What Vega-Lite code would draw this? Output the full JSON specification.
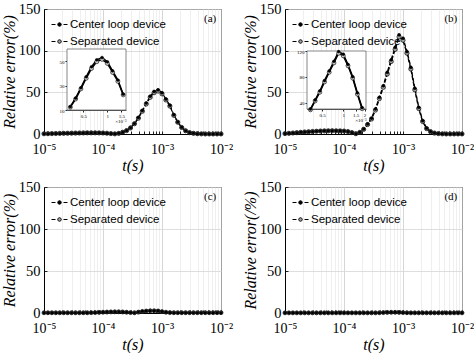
{
  "$schema": "https://vega.github.io/schema/vega-lite/v6.json",
  "padding": {"left": 0, "top": 0, "right": 0, "bottom": 0},
  "background": "white",
  "datasets": {
    "pts": [
      {"p":"a","t":1e-5,"c":0.3,"s":0.3},{"p":"a","t":1.166e-5,"c":0.4,"s":0.4},{"p":"a","t":1.359e-5,"c":0.5,"s":0.5},{"p":"a","t":1.585e-5,"c":0.6,"s":0.6},{"p":"a","t":1.848e-5,"c":0.7,"s":0.7},{"p":"a","t":2.154e-5,"c":0.8,"s":0.8},{"p":"a","t":2.512e-5,"c":0.9,"s":0.9},{"p":"a","t":2.929e-5,"c":1.0,"s":1.0},{"p":"a","t":3.415e-5,"c":1.1,"s":1.1},{"p":"a","t":3.981e-5,"c":1.2,"s":1.2},{"p":"a","t":4.642e-5,"c":1.3,"s":1.3},{"p":"a","t":5.412e-5,"c":1.4,"s":1.4},{"p":"a","t":6.31e-5,"c":1.5,"s":1.4},{"p":"a","t":7.356e-5,"c":1.5,"s":1.4},{"p":"a","t":8.577e-5,"c":1.4,"s":1.3},
      {"p":"a","t":1e-4,"c":1.3,"s":1.2},{"p":"a","t":1.166e-4,"c":1.0,"s":0.9},{"p":"a","t":1.359e-4,"c":0.5,"s":0.5},{"p":"a","t":1.585e-4,"c":0.2,"s":0.2},{"p":"a","t":1.848e-4,"c":0.8,"s":0.7},{"p":"a","t":2.154e-4,"c":2.2,"s":2.1},{"p":"a","t":2.512e-4,"c":4.3,"s":4.1},{"p":"a","t":2.929e-4,"c":7.6,"s":7.3},{"p":"a","t":3.415e-4,"c":12.7,"s":12.3},{"p":"a","t":3.981e-4,"c":19.7,"s":19.0},{"p":"a","t":4.642e-4,"c":28.2,"s":27.3},{"p":"a","t":5.412e-4,"c":37.2,"s":36.0},{"p":"a","t":6.31e-4,"c":45.4,"s":44.0},{"p":"a","t":7.356e-4,"c":51.1,"s":49.6},{"p":"a","t":8.577e-4,"c":53,"s":51.5},
      {"p":"a","t":1e-3,"c":49.5,"s":48.2},{"p":"a","t":1.166e-3,"c":42,"s":40.8},{"p":"a","t":1.359e-3,"c":34.5,"s":33.5},{"p":"a","t":1.585e-3,"c":23,"s":22.4},{"p":"a","t":1.848e-3,"c":14.5,"s":14.1},{"p":"a","t":2.154e-3,"c":8,"s":7.8},{"p":"a","t":2.512e-3,"c":4,"s":3.9},{"p":"a","t":2.929e-3,"c":1.8,"s":1.7},{"p":"a","t":3.415e-3,"c":0.8,"s":0.8},{"p":"a","t":3.981e-3,"c":0.4,"s":0.4},{"p":"a","t":4.642e-3,"c":0.2,"s":0.2},{"p":"a","t":5.412e-3,"c":0.1,"s":0.1},{"p":"a","t":6.31e-3,"c":0.1,"s":0.1},{"p":"a","t":7.356e-3,"c":0.1,"s":0.1},{"p":"a","t":8.577e-3,"c":0.1,"s":0.1},{"p":"a","t":1e-2,"c":0.1,"s":0.1},

      {"p":"b","t":1e-5,"c":0.5,"s":0.5},{"p":"b","t":1.166e-5,"c":0.8,"s":0.8},{"p":"b","t":1.359e-5,"c":1.2,"s":1.2},{"p":"b","t":1.585e-5,"c":1.6,"s":1.6},{"p":"b","t":1.848e-5,"c":2.0,"s":2.0},{"p":"b","t":2.154e-5,"c":2.4,"s":2.4},{"p":"b","t":2.512e-5,"c":2.8,"s":2.7},{"p":"b","t":2.929e-5,"c":3.1,"s":3.0},{"p":"b","t":3.415e-5,"c":3.4,"s":3.3},{"p":"b","t":3.981e-5,"c":3.6,"s":3.5},{"p":"b","t":4.642e-5,"c":3.8,"s":3.7},{"p":"b","t":5.412e-5,"c":3.9,"s":3.8},{"p":"b","t":6.31e-5,"c":4.0,"s":3.9},{"p":"b","t":7.356e-5,"c":3.9,"s":3.8},{"p":"b","t":8.577e-5,"c":3.8,"s":3.7},
      {"p":"b","t":1e-4,"c":3.6,"s":3.5},{"p":"b","t":1.166e-4,"c":3.0,"s":2.9},{"p":"b","t":1.359e-4,"c":1.8,"s":1.7},{"p":"b","t":1.585e-4,"c":0.4,"s":0.4},{"p":"b","t":1.848e-4,"c":2,"s":1.9},{"p":"b","t":2.154e-4,"c":6,"s":5.6},{"p":"b","t":2.512e-4,"c":12,"s":11.4},{"p":"b","t":2.929e-4,"c":19,"s":18},{"p":"b","t":3.415e-4,"c":30,"s":28.7},{"p":"b","t":3.981e-4,"c":44,"s":42.5},{"p":"b","t":4.642e-4,"c":58,"s":56},{"p":"b","t":5.412e-4,"c":74,"s":72},{"p":"b","t":6.31e-4,"c":89,"s":87},{"p":"b","t":7.356e-4,"c":104,"s":101.5},{"p":"b","t":8.577e-4,"c":119,"s":116.5},
      {"p":"b","t":1e-3,"c":115,"s":112.5},{"p":"b","t":1.166e-3,"c":99,"s":97},{"p":"b","t":1.359e-3,"c":80,"s":78},{"p":"b","t":1.585e-3,"c":55,"s":53},{"p":"b","t":1.848e-3,"c":32,"s":30.5},{"p":"b","t":2.154e-3,"c":16,"s":15},{"p":"b","t":2.512e-3,"c":7,"s":6.5},{"p":"b","t":2.929e-3,"c":3,"s":2.8},{"p":"b","t":3.415e-3,"c":1.2,"s":1.1},{"p":"b","t":3.981e-3,"c":0.5,"s":0.5},{"p":"b","t":4.642e-3,"c":0.2,"s":0.2},{"p":"b","t":5.412e-3,"c":0.1,"s":0.1},{"p":"b","t":6.31e-3,"c":0.1,"s":0.1},{"p":"b","t":7.356e-3,"c":0.1,"s":0.1},{"p":"b","t":8.577e-3,"c":0.1,"s":0.1},{"p":"b","t":1e-2,"c":0.1,"s":0.1},

      {"p":"c","t":1e-5,"c":0.3,"s":0.3},{"p":"c","t":1.166e-5,"c":0.3,"s":0.3},{"p":"c","t":1.359e-5,"c":0.3,"s":0.3},{"p":"c","t":1.585e-5,"c":0.3,"s":0.3},{"p":"c","t":1.848e-5,"c":0.3,"s":0.3},{"p":"c","t":2.154e-5,"c":0.3,"s":0.3},{"p":"c","t":2.512e-5,"c":0.3,"s":0.3},{"p":"c","t":2.929e-5,"c":0.3,"s":0.3},{"p":"c","t":3.415e-5,"c":0.3,"s":0.3},{"p":"c","t":3.981e-5,"c":0.3,"s":0.3},{"p":"c","t":4.642e-5,"c":0.3,"s":0.3},{"p":"c","t":5.412e-5,"c":0.3,"s":0.3},{"p":"c","t":6.31e-5,"c":0.5,"s":0.4},{"p":"c","t":7.356e-5,"c":0.6,"s":0.5},{"p":"c","t":8.577e-5,"c":0.8,"s":0.7},
      {"p":"c","t":1e-4,"c":1.0,"s":0.9},{"p":"c","t":1.166e-4,"c":1.2,"s":1.1},{"p":"c","t":1.359e-4,"c":1.4,"s":1.3},{"p":"c","t":1.585e-4,"c":1.5,"s":1.4},{"p":"c","t":1.848e-4,"c":1.5,"s":1.4},{"p":"c","t":2.154e-4,"c":1.3,"s":1.2},{"p":"c","t":2.512e-4,"c":1.0,"s":0.9},{"p":"c","t":2.929e-4,"c":0.6,"s":0.5},{"p":"c","t":3.415e-4,"c":0.3,"s":0.3},{"p":"c","t":3.981e-4,"c":1.2,"s":1.0},{"p":"c","t":4.642e-4,"c":2.0,"s":1.8},{"p":"c","t":5.412e-4,"c":2.5,"s":2.3},{"p":"c","t":6.31e-4,"c":2.8,"s":2.6},{"p":"c","t":7.356e-4,"c":2.8,"s":2.6},{"p":"c","t":8.577e-4,"c":2.6,"s":2.4},
      {"p":"c","t":1e-3,"c":1.8,"s":1.6},{"p":"c","t":1.166e-3,"c":1.0,"s":0.9},{"p":"c","t":1.359e-3,"c":0.6,"s":0.5},{"p":"c","t":1.585e-3,"c":0.4,"s":0.4},{"p":"c","t":1.848e-3,"c":0.4,"s":0.4},{"p":"c","t":2.154e-3,"c":0.4,"s":0.4},{"p":"c","t":2.512e-3,"c":0.4,"s":0.4},{"p":"c","t":2.929e-3,"c":0.4,"s":0.4},{"p":"c","t":3.415e-3,"c":0.4,"s":0.4},{"p":"c","t":3.981e-3,"c":0.4,"s":0.4},{"p":"c","t":4.642e-3,"c":0.4,"s":0.4},{"p":"c","t":5.412e-3,"c":0.4,"s":0.4},{"p":"c","t":6.31e-3,"c":0.4,"s":0.4},{"p":"c","t":7.356e-3,"c":0.4,"s":0.4},{"p":"c","t":8.577e-3,"c":0.4,"s":0.4},{"p":"c","t":1e-2,"c":0.4,"s":0.4},

      {"p":"d","t":1e-5,"c":0.2,"s":0.2},{"p":"d","t":1.166e-5,"c":0.2,"s":0.2},{"p":"d","t":1.359e-5,"c":0.2,"s":0.2},{"p":"d","t":1.585e-5,"c":0.2,"s":0.2},{"p":"d","t":1.848e-5,"c":0.2,"s":0.2},{"p":"d","t":2.154e-5,"c":0.2,"s":0.2},{"p":"d","t":2.512e-5,"c":0.2,"s":0.2},{"p":"d","t":2.929e-5,"c":0.2,"s":0.2},{"p":"d","t":3.415e-5,"c":0.2,"s":0.2},{"p":"d","t":3.981e-5,"c":0.2,"s":0.2},{"p":"d","t":4.642e-5,"c":0.2,"s":0.2},{"p":"d","t":5.412e-5,"c":0.2,"s":0.2},{"p":"d","t":6.31e-5,"c":0.2,"s":0.2},{"p":"d","t":7.356e-5,"c":0.2,"s":0.2},{"p":"d","t":8.577e-5,"c":0.2,"s":0.2},
      {"p":"d","t":1e-4,"c":0.2,"s":0.2},{"p":"d","t":1.166e-4,"c":0.2,"s":0.2},{"p":"d","t":1.359e-4,"c":0.2,"s":0.2},{"p":"d","t":1.585e-4,"c":0.2,"s":0.2},{"p":"d","t":1.848e-4,"c":0.2,"s":0.2},{"p":"d","t":2.154e-4,"c":0.2,"s":0.2},{"p":"d","t":2.512e-4,"c":0.2,"s":0.2},{"p":"d","t":2.929e-4,"c":0.2,"s":0.2},{"p":"d","t":3.415e-4,"c":0.2,"s":0.2},{"p":"d","t":3.981e-4,"c":0.4,"s":0.35},{"p":"d","t":4.642e-4,"c":0.6,"s":0.5},{"p":"d","t":5.412e-4,"c":0.8,"s":0.7},{"p":"d","t":6.31e-4,"c":0.9,"s":0.8},{"p":"d","t":7.356e-4,"c":0.9,"s":0.8},{"p":"d","t":8.577e-4,"c":0.8,"s":0.7},
      {"p":"d","t":1e-3,"c":0.6,"s":0.5},{"p":"d","t":1.166e-3,"c":0.4,"s":0.35},{"p":"d","t":1.359e-3,"c":0.2,"s":0.2},{"p":"d","t":1.585e-3,"c":0.2,"s":0.2},{"p":"d","t":1.848e-3,"c":0.2,"s":0.2},{"p":"d","t":2.154e-3,"c":0.2,"s":0.2},{"p":"d","t":2.512e-3,"c":0.2,"s":0.2},{"p":"d","t":2.929e-3,"c":0.2,"s":0.2},{"p":"d","t":3.415e-3,"c":0.2,"s":0.2},{"p":"d","t":3.981e-3,"c":0.2,"s":0.2},{"p":"d","t":4.642e-3,"c":0.2,"s":0.2},{"p":"d","t":5.412e-3,"c":0.2,"s":0.2},{"p":"d","t":6.31e-3,"c":0.2,"s":0.2},{"p":"d","t":7.356e-3,"c":0.2,"s":0.2},{"p":"d","t":8.577e-3,"c":0.2,"s":0.2},{"p":"d","t":1e-2,"c":0.2,"s":0.2}
    ]
  },
  "columns": 2,
  "spacing": {"row": 53, "column": 64},
  "bounds": "flush",
  "resolve": {"scale": {"fill": "independent"}, "legend": {"fill": "independent"}},
  "concat": [
    {
      "width": 177, "height": 125,
      "layer": [
        {"layer": [
          {"data": {"name": "pts"}, "transform": [{"filter": "datum.p=='a'"}, {"fold": ["c","s"], "as": ["key","err"]}],
           "mark": {"type": "line", "color": "black", "strokeWidth": 1.2, "strokeDash": [4,2]},
           "encoding": {
             "x": {"field": "t", "type": "quantitative", "scale": {"type": "log", "domain": [1e-5, 1e-2], "nice": false},
                   "axis": {"title": "t(s)", "values": [1e-5,2e-5,3e-5,4e-5,5e-5,6e-5,7e-5,8e-5,9e-5,1e-4,2e-4,3e-4,4e-4,5e-4,6e-4,7e-4,8e-4,9e-4,0.001,0.002,0.003,0.004,0.005,0.006,0.007,0.008,0.009,0.01],
                     "labelExpr": "abs(log(datum.value)/LN10-round(log(datum.value)/LN10))<1e-6 ? '10⁻'+['⁰','¹','²','³','⁴','⁵'][-round(log(datum.value)/LN10)] : ''",
                     "labelOverlap": false, "labelFlush": false, "labelFontSize": 14, "labelPadding": 11, "tickSize": -3,
                     "grid": true, "gridColor": {"condition": {"test": "abs(log(datum.value)/LN10-round(log(datum.value)/LN10))<1e-6", "value": "#cccccc"}, "value": "#ebebeb"}, "gridWidth": 0.8,
                     "titleFontStyle": "italic", "titleFontSize": 16, "titlePadding": 1}},
             "y": {"field": "err", "type": "quantitative", "scale": {"domain": [0, 150], "nice": false},
                   "axis": {"title": "Relative error(%)", "values": [0,50,100,150], "grid": true, "gridColor": "#d6d6d6", "gridWidth": 0.8, "tickSize": -3, "labelPadding": 7, "labelFontSize": 14.5, "labelOverlap": false, "titleFontStyle": "italic", "titleFontSize": 16, "titlePadding": 1}},
             "detail": {"field": "key"}
           }},
          {"data": {"name": "pts"}, "transform": [{"filter": "datum.p=='a'"}, {"fold": ["c","s"], "as": ["key","err"]}, {"filter": "datum.key=='s'"}],
           "mark": {"type": "point", "shape": "circle", "filled": true, "stroke": "black", "strokeWidth": 0.7, "opacity": 1, "size": 18},
           "encoding": {
             "x": {"field": "t", "type": "quantitative", "scale": {"type": "log", "domain": [1e-5, 1e-2], "nice": false}},
             "y": {"field": "err", "type": "quantitative", "scale": {"domain": [0, 150], "nice": false}},
             "fill": {"field": "key", "type": "nominal", "scale": {"domain": ["c","s"], "range": ["black", "#a6a6a6"]},
                      "legend": {"title": null, "labelExpr": "datum.label=='c' ? 'Center loop device' : 'Separated device'"}}
           }},
          {"data": {"name": "pts"}, "transform": [{"filter": "datum.p=='a'"}, {"fold": ["c","s"], "as": ["key","err"]}, {"filter": "datum.key=='c'"}],
           "mark": {"type": "point", "shape": "circle", "filled": true, "stroke": "black", "strokeWidth": 0.5, "opacity": 1, "size": 9},
           "encoding": {
             "x": {"field": "t", "type": "quantitative", "scale": {"type": "log", "domain": [1e-5, 1e-2], "nice": false}},
             "y": {"field": "err", "type": "quantitative", "scale": {"domain": [0, 150], "nice": false}},
             "fill": {"field": "key", "type": "nominal", "scale": {"domain": ["c","s"], "range": ["black", "#a6a6a6"]},
                      "legend": {"title": null, "labelExpr": "datum.label=='c' ? 'Center loop device' : 'Separated device'"}}
           }},
          {"data": {"values": [{"lab": "(a)"}]},
           "mark": {"type": "text", "font": "Liberation Serif", "fontSize": 11, "align": "right", "baseline": "middle", "color": "black"},
           "encoding": {"x": {"datum": 0.0083, "type": "quantitative"}, "y": {"datum": 138, "type": "quantitative"}, "text": {"field": "lab"}}}
        ]},
        {"layer": [
          {"data": {"values": [{"box": 1}]},
           "mark": {"type": "rect", "fill": "white", "stroke": "#555555", "strokeWidth": 0.7},
           "encoding": {
             "x": {"datum": 3.1e-4, "type": "quantitative", "scale": {"type": "log", "domain": [3.1e-4, 1.72e-3], "nice": false, "range": [23, 82]},
                   "axis": {"orient": "bottom", "offset": -24, "values": [5e-4, 1e-3, 1.5e-3], "labelExpr": "format(datum.value*1000,'~g')", "labelFontSize": 5, "labelPadding": 1, "tickSize": 2, "grid": false, "labelFlush": false, "labelOverlap": false,
                            "title": "×10⁻³", "titleFontSize": 5, "titleAnchor": "end", "titlePadding": 0, "titleFontStyle": "normal", "domainColor": "#555555"}},
             "x2": {"datum": 1.72e-3},
             "y": {"datum": 10, "type": "quantitative", "scale": {"domain": [10, 60], "nice": false, "zero": false, "range": [101, 40]},
                   "axis": {"orient": "left", "offset": -23, "values": [10,20,30,40,50,60], "labelFontSize": 5, "labelPadding": 1, "tickSize": 2, "grid": false, "title": null, "domainColor": "#555555", "labelFlush": false, "labelOverlap": false}},
             "y2": {"datum": 60}
           }},
          {"data": {"name": "pts"}, "transform": [{"filter": "datum.p=='a' && datum.t>3.1e-4 && datum.t<1.72e-3"}, {"fold": ["c","s"], "as": ["key","err"]}],
           "mark": {"type": "line", "color": "black", "strokeWidth": 1.5},
           "encoding": {
             "x": {"field": "t", "type": "quantitative", "scale": {"type": "log", "domain": [3.1e-4, 1.72e-3], "nice": false, "range": [23, 82]}},
             "y": {"field": "err", "type": "quantitative", "scale": {"domain": [10, 60], "nice": false, "zero": false, "range": [101, 40]}},
             "detail": {"field": "key"}
           }},
          {"data": {"name": "pts"}, "transform": [{"filter": "datum.p=='a' && datum.t>3.1e-4 && datum.t<1.72e-3"}, {"fold": ["c","s"], "as": ["key","err"]}, {"filter": "datum.key=='s'"}],
           "mark": {"type": "point", "shape": "circle", "filled": true, "fill": "#cfcfcf", "stroke": "black", "strokeWidth": 0.6, "opacity": 1, "size": 16},
           "encoding": {
             "x": {"field": "t", "type": "quantitative", "scale": {"type": "log", "domain": [3.1e-4, 1.72e-3], "nice": false, "range": [23, 82]}},
             "y": {"field": "err", "type": "quantitative", "scale": {"domain": [10, 60], "nice": false, "zero": false, "range": [101, 40]}}
           }},
          {"data": {"name": "pts"}, "transform": [{"filter": "datum.p=='a' && datum.t>3.1e-4 && datum.t<1.72e-3"}, {"fold": ["c","s"], "as": ["key","err"]}, {"filter": "datum.key=='c'"}],
           "mark": {"type": "point", "shape": "circle", "filled": true, "fill": "black", "stroke": "black", "strokeWidth": 0.5, "opacity": 1, "size": 8},
           "encoding": {
             "x": {"field": "t", "type": "quantitative", "scale": {"type": "log", "domain": [3.1e-4, 1.72e-3], "nice": false, "range": [23, 82]}},
             "y": {"field": "err", "type": "quantitative", "scale": {"domain": [10, 60], "nice": false, "zero": false, "range": [101, 40]}}
           }}
        ]}
      ],
      "resolve": {"scale": {"x": "independent", "y": "independent"}, "axis": {"x": "independent", "y": "independent"}}
    },
    {
      "width": 177, "height": 125,
      "layer": [
        {"layer": [
          {"data": {"name": "pts"}, "transform": [{"filter": "datum.p=='b'"}, {"fold": ["c","s"], "as": ["key","err"]}],
           "mark": {"type": "line", "color": "black", "strokeWidth": 1.4, "strokeDash": [4,2]},
           "encoding": {
             "x": {"field": "t", "type": "quantitative", "scale": {"type": "log", "domain": [1e-5, 1e-2], "nice": false},
                   "axis": {"title": "t(s)", "values": [1e-5,2e-5,3e-5,4e-5,5e-5,6e-5,7e-5,8e-5,9e-5,1e-4,2e-4,3e-4,4e-4,5e-4,6e-4,7e-4,8e-4,9e-4,0.001,0.002,0.003,0.004,0.005,0.006,0.007,0.008,0.009,0.01],
                     "labelExpr": "abs(log(datum.value)/LN10-round(log(datum.value)/LN10))<1e-6 ? '10⁻'+['⁰','¹','²','³','⁴','⁵'][-round(log(datum.value)/LN10)] : ''",
                     "labelOverlap": false, "labelFlush": false, "labelFontSize": 14, "labelPadding": 11, "tickSize": -3,
                     "grid": true, "gridColor": {"condition": {"test": "abs(log(datum.value)/LN10-round(log(datum.value)/LN10))<1e-6", "value": "#cccccc"}, "value": "#ebebeb"}, "gridWidth": 0.8,
                     "titleFontStyle": "italic", "titleFontSize": 16, "titlePadding": 1}},
             "y": {"field": "err", "type": "quantitative", "scale": {"domain": [0, 150], "nice": false},
                   "axis": {"title": "Relative error(%)", "values": [0,50,100,150], "grid": true, "gridColor": "#d6d6d6", "gridWidth": 0.8, "tickSize": -3, "labelPadding": 7, "labelFontSize": 14.5, "labelOverlap": false, "titleFontStyle": "italic", "titleFontSize": 16, "titlePadding": 1}},
             "detail": {"field": "key"}
           }},
          {"data": {"name": "pts"}, "transform": [{"filter": "datum.p=='b'"}, {"fold": ["c","s"], "as": ["key","err"]}, {"filter": "datum.key=='s'"}],
           "mark": {"type": "point", "shape": "circle", "filled": true, "stroke": "black", "strokeWidth": 0.7, "opacity": 1, "size": 18},
           "encoding": {
             "x": {"field": "t", "type": "quantitative", "scale": {"type": "log", "domain": [1e-5, 1e-2], "nice": false}},
             "y": {"field": "err", "type": "quantitative", "scale": {"domain": [0, 150], "nice": false}},
             "fill": {"field": "key", "type": "nominal", "scale": {"domain": ["c","s"], "range": ["black", "#a6a6a6"]},
                      "legend": {"title": null, "labelExpr": "datum.label=='c' ? 'Center loop device' : 'Separated device'"}}
           }},
          {"data": {"name": "pts"}, "transform": [{"filter": "datum.p=='b'"}, {"fold": ["c","s"], "as": ["key","err"]}, {"filter": "datum.key=='c'"}],
           "mark": {"type": "point", "shape": "circle", "filled": true, "stroke": "black", "strokeWidth": 0.5, "opacity": 1, "size": 9},
           "encoding": {
             "x": {"field": "t", "type": "quantitative", "scale": {"type": "log", "domain": [1e-5, 1e-2], "nice": false}},
             "y": {"field": "err", "type": "quantitative", "scale": {"domain": [0, 150], "nice": false}},
             "fill": {"field": "key", "type": "nominal", "scale": {"domain": ["c","s"], "range": ["black", "#a6a6a6"]},
                      "legend": {"title": null, "labelExpr": "datum.label=='c' ? 'Center loop device' : 'Separated device'"}}
           }},
          {"data": {"values": [{"lab": "(b)"}]},
           "mark": {"type": "text", "font": "Liberation Serif", "fontSize": 11, "align": "right", "baseline": "middle", "color": "black"},
           "encoding": {"x": {"datum": 0.0083, "type": "quantitative"}, "y": {"datum": 138, "type": "quantitative"}, "text": {"field": "lab"}}}
        ]},
        {"layer": [
          {"data": {"values": [{"box": 1}]},
           "mark": {"type": "rect", "fill": "white", "stroke": "#555555", "strokeWidth": 0.7},
           "encoding": {
             "x": {"datum": 3.05e-4, "type": "quantitative", "scale": {"type": "log", "domain": [3.05e-4, 2.1e-3], "nice": false, "range": [22, 81]},
                   "axis": {"orient": "bottom", "offset": -25, "values": [5e-4, 1e-3, 1.5e-3, 2e-3], "labelExpr": "format(datum.value*1000,'~g')", "labelFontSize": 5, "labelPadding": 1, "tickSize": 2, "grid": false, "labelFlush": false, "labelOverlap": false,
                            "title": "×10⁻³", "titleFontSize": 5, "titleAnchor": "end", "titlePadding": 0, "titleFontStyle": "normal", "domainColor": "#555555"}},
             "x2": {"datum": 2.1e-3},
             "y": {"datum": 30, "type": "quantitative", "scale": {"domain": [30, 120], "nice": false, "zero": false, "range": [100, 42]},
                   "axis": {"orient": "left", "offset": -22, "values": [40,60,80,100,120], "labelFontSize": 5, "labelPadding": 1, "tickSize": 2, "grid": false, "title": null, "domainColor": "#555555", "labelFlush": false, "labelOverlap": false}},
             "y2": {"datum": 120}
           }},
          {"data": {"name": "pts"}, "transform": [{"filter": "datum.p=='b' && datum.t>3.05e-4 && datum.t<2.1e-3"}, {"fold": ["c","s"], "as": ["key","err"]}],
           "mark": {"type": "line", "color": "black", "strokeWidth": 1.5},
           "encoding": {
             "x": {"field": "t", "type": "quantitative", "scale": {"type": "log", "domain": [3.05e-4, 2.1e-3], "nice": false, "range": [22, 81]}},
             "y": {"field": "err", "type": "quantitative", "scale": {"domain": [30, 120], "nice": false, "zero": false, "range": [100, 42]}},
             "detail": {"field": "key"}
           }},
          {"data": {"name": "pts"}, "transform": [{"filter": "datum.p=='b' && datum.t>3.05e-4 && datum.t<2.1e-3"}, {"fold": ["c","s"], "as": ["key","err"]}, {"filter": "datum.key=='s'"}],
           "mark": {"type": "point", "shape": "circle", "filled": true, "fill": "#cfcfcf", "stroke": "black", "strokeWidth": 0.6, "opacity": 1, "size": 16},
           "encoding": {
             "x": {"field": "t", "type": "quantitative", "scale": {"type": "log", "domain": [3.05e-4, 2.1e-3], "nice": false, "range": [22, 81]}},
             "y": {"field": "err", "type": "quantitative", "scale": {"domain": [30, 120], "nice": false, "zero": false, "range": [100, 42]}}
           }},
          {"data": {"name": "pts"}, "transform": [{"filter": "datum.p=='b' && datum.t>3.05e-4 && datum.t<2.1e-3"}, {"fold": ["c","s"], "as": ["key","err"]}, {"filter": "datum.key=='c'"}],
           "mark": {"type": "point", "shape": "circle", "filled": true, "fill": "black", "stroke": "black", "strokeWidth": 0.5, "opacity": 1, "size": 8},
           "encoding": {
             "x": {"field": "t", "type": "quantitative", "scale": {"type": "log", "domain": [3.05e-4, 2.1e-3], "nice": false, "range": [22, 81]}},
             "y": {"field": "err", "type": "quantitative", "scale": {"domain": [30, 120], "nice": false, "zero": false, "range": [100, 42]}}
           }}
        ]}
      ],
      "resolve": {"scale": {"x": "independent", "y": "independent"}, "axis": {"x": "independent", "y": "independent"}}
    },
    {
      "width": 177, "height": 126,
      "layer": [
        {"data": {"name": "pts"}, "transform": [{"filter": "datum.p=='c'"}, {"fold": ["c","s"], "as": ["key","err"]}],
         "mark": {"type": "line", "color": "black", "strokeWidth": 1.2, "strokeDash": [4,2]},
         "encoding": {
           "x": {"field": "t", "type": "quantitative", "scale": {"type": "log", "domain": [1e-5, 1e-2], "nice": false},
                 "axis": {"title": "t(s)", "values": [1e-5,2e-5,3e-5,4e-5,5e-5,6e-5,7e-5,8e-5,9e-5,1e-4,2e-4,3e-4,4e-4,5e-4,6e-4,7e-4,8e-4,9e-4,0.001,0.002,0.003,0.004,0.005,0.006,0.007,0.008,0.009,0.01],
                   "labelExpr": "abs(log(datum.value)/LN10-round(log(datum.value)/LN10))<1e-6 ? '10⁻'+['⁰','¹','²','³','⁴','⁵'][-round(log(datum.value)/LN10)] : ''",
                   "labelOverlap": false, "labelFlush": false, "labelFontSize": 14, "labelPadding": 11, "tickSize": -3,
                   "grid": true, "gridColor": {"condition": {"test": "abs(log(datum.value)/LN10-round(log(datum.value)/LN10))<1e-6", "value": "#cccccc"}, "value": "#ebebeb"}, "gridWidth": 0.8,
                   "titleFontStyle": "italic", "titleFontSize": 16, "titlePadding": 1}},
           "y": {"field": "err", "type": "quantitative", "scale": {"domain": [0, 150], "nice": false},
                 "axis": {"title": "Relative error(%)", "values": [0,50,100,150], "grid": true, "gridColor": "#d6d6d6", "gridWidth": 0.8, "tickSize": -3, "labelPadding": 7, "labelFontSize": 14.5, "labelOverlap": false, "titleFontStyle": "italic", "titleFontSize": 16, "titlePadding": 1}},
           "detail": {"field": "key"}
         }},
        {"data": {"name": "pts"}, "transform": [{"filter": "datum.p=='c'"}, {"fold": ["c","s"], "as": ["key","err"]}, {"filter": "datum.key=='s'"}],
         "mark": {"type": "point", "shape": "circle", "filled": true, "stroke": "black", "strokeWidth": 0.7, "opacity": 1, "size": 16},
         "encoding": {
           "x": {"field": "t", "type": "quantitative", "scale": {"type": "log", "domain": [1e-5, 1e-2], "nice": false}},
           "y": {"field": "err", "type": "quantitative", "scale": {"domain": [0, 150], "nice": false}},
           "fill": {"field": "key", "type": "nominal", "scale": {"domain": ["c","s"], "range": ["black", "#a6a6a6"]},
                    "legend": {"title": null, "labelExpr": "datum.label=='c' ? 'Center loop device' : 'Separated device'"}}
         }},
        {"data": {"name": "pts"}, "transform": [{"filter": "datum.p=='c'"}, {"fold": ["c","s"], "as": ["key","err"]}, {"filter": "datum.key=='c'"}],
         "mark": {"type": "point", "shape": "circle", "filled": true, "stroke": "black", "strokeWidth": 0.5, "opacity": 1, "size": 9},
         "encoding": {
           "x": {"field": "t", "type": "quantitative", "scale": {"type": "log", "domain": [1e-5, 1e-2], "nice": false}},
           "y": {"field": "err", "type": "quantitative", "scale": {"domain": [0, 150], "nice": false}},
           "fill": {"field": "key", "type": "nominal", "scale": {"domain": ["c","s"], "range": ["black", "#a6a6a6"]},
                    "legend": {"title": null, "labelExpr": "datum.label=='c' ? 'Center loop device' : 'Separated device'"}}
         }},
        {"data": {"values": [{"lab": "(c)"}]},
         "mark": {"type": "text", "font": "Liberation Serif", "fontSize": 11, "align": "right", "baseline": "middle", "color": "black"},
         "encoding": {"x": {"datum": 0.0083, "type": "quantitative"}, "y": {"datum": 138, "type": "quantitative"}, "text": {"field": "lab"}}}
      ]
    },
    {
      "width": 177, "height": 126,
      "layer": [
        {"data": {"name": "pts"}, "transform": [{"filter": "datum.p=='d'"}, {"fold": ["c","s"], "as": ["key","err"]}],
         "mark": {"type": "line", "color": "black", "strokeWidth": 1.2, "strokeDash": [4,2]},
         "encoding": {
           "x": {"field": "t", "type": "quantitative", "scale": {"type": "log", "domain": [1e-5, 1e-2], "nice": false},
                 "axis": {"title": "t(s)", "values": [1e-5,2e-5,3e-5,4e-5,5e-5,6e-5,7e-5,8e-5,9e-5,1e-4,2e-4,3e-4,4e-4,5e-4,6e-4,7e-4,8e-4,9e-4,0.001,0.002,0.003,0.004,0.005,0.006,0.007,0.008,0.009,0.01],
                   "labelExpr": "abs(log(datum.value)/LN10-round(log(datum.value)/LN10))<1e-6 ? '10⁻'+['⁰','¹','²','³','⁴','⁵'][-round(log(datum.value)/LN10)] : ''",
                   "labelOverlap": false, "labelFlush": false, "labelFontSize": 14, "labelPadding": 11, "tickSize": -3,
                   "grid": true, "gridColor": {"condition": {"test": "abs(log(datum.value)/LN10-round(log(datum.value)/LN10))<1e-6", "value": "#cccccc"}, "value": "#ebebeb"}, "gridWidth": 0.8,
                   "titleFontStyle": "italic", "titleFontSize": 16, "titlePadding": 1}},
           "y": {"field": "err", "type": "quantitative", "scale": {"domain": [0, 150], "nice": false},
                 "axis": {"title": "Relative error(/%)", "values": [0,50,100,150], "grid": true, "gridColor": "#d6d6d6", "gridWidth": 0.8, "tickSize": -3, "labelPadding": 7, "labelFontSize": 14.5, "labelOverlap": false, "titleFontStyle": "italic", "titleFontSize": 16, "titlePadding": 1}},
           "detail": {"field": "key"}
         }},
        {"data": {"name": "pts"}, "transform": [{"filter": "datum.p=='d'"}, {"fold": ["c","s"], "as": ["key","err"]}, {"filter": "datum.key=='s'"}],
         "mark": {"type": "point", "shape": "circle", "filled": true, "stroke": "black", "strokeWidth": 0.7, "opacity": 1, "size": 16},
         "encoding": {
           "x": {"field": "t", "type": "quantitative", "scale": {"type": "log", "domain": [1e-5, 1e-2], "nice": false}},
           "y": {"field": "err", "type": "quantitative", "scale": {"domain": [0, 150], "nice": false}},
           "fill": {"field": "key", "type": "nominal", "scale": {"domain": ["c","s"], "range": ["black", "#a6a6a6"]},
                    "legend": {"title": null, "labelExpr": "datum.label=='c' ? 'Center loop device' : 'Separated device'"}}
         }},
        {"data": {"name": "pts"}, "transform": [{"filter": "datum.p=='d'"}, {"fold": ["c","s"], "as": ["key","err"]}, {"filter": "datum.key=='c'"}],
         "mark": {"type": "point", "shape": "circle", "filled": true, "stroke": "black", "strokeWidth": 0.5, "opacity": 1, "size": 9},
         "encoding": {
           "x": {"field": "t", "type": "quantitative", "scale": {"type": "log", "domain": [1e-5, 1e-2], "nice": false}},
           "y": {"field": "err", "type": "quantitative", "scale": {"domain": [0, 150], "nice": false}},
           "fill": {"field": "key", "type": "nominal", "scale": {"domain": ["c","s"], "range": ["black", "#a6a6a6"]},
                    "legend": {"title": null, "labelExpr": "datum.label=='c' ? 'Center loop device' : 'Separated device'"}}
         }},
        {"data": {"values": [{"lab": "(d)"}]},
         "mark": {"type": "text", "font": "Liberation Serif", "fontSize": 11, "align": "right", "baseline": "middle", "color": "black"},
         "encoding": {"x": {"datum": 0.0083, "type": "quantitative"}, "y": {"datum": 138, "type": "quantitative"}, "text": {"field": "lab"}}}
      ]
    }
  ],
  "config": {
    "view": {"stroke": "black", "strokeWidth": 1},
    "axis": {"labelFont": "Liberation Serif", "labelColor": "black", "titleFont": "Liberation Serif", "titleColor": "black", "titleFontWeight": "normal", "domainColor": "black", "tickColor": "#222222"},
    "legend": {"orient": "top-left", "offset": 7, "padding": 0, "symbolType": "M-1,0H-0.5M0.5,0H1M-0.22,0A0.22,0.22,0,1,0,0.22,0A0.22,0.22,0,1,0,-0.22,0Z", "symbolSize": 256, "symbolStrokeColor": "black", "symbolStrokeWidth": 1, "labelFont": "Liberation Sans", "labelFontSize": 11.5, "labelColor": "black", "rowPadding": 3, "labelOffset": 2}
  }
}
